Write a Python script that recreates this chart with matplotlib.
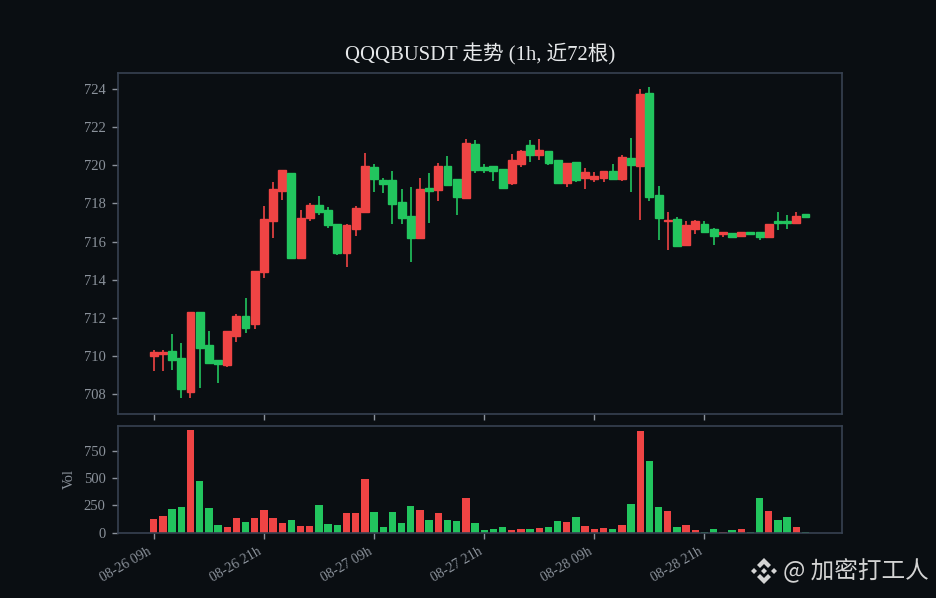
import matplotlib
matplotlib.use("Agg")
import matplotlib.pyplot as plt
from matplotlib.patches import Polygon

BG = '#0a0e12'
UP = '#ef4444'
DOWN = '#22c55e'
SPINE = '#374151'
TICK = '#8b929b'

title = 'QQQBUSDT 走势 (1h, 近72根)'
tick_idx = [0, 12, 24, 36, 48, 60]
tick_labels = ['08-26 09h', '08-26 21h', '08-27 09h', '08-27 21h', '08-28 09h', '08-28 21h']

opens = [709.99, 710.09, 710.25, 709.88, 708.10, 712.29, 710.56, 709.78, 709.52, 711.08, 712.08, 711.66,
         714.43, 717.10, 718.67, 719.61, 715.16, 717.25, 717.93, 717.67, 716.94, 715.42, 716.68, 717.57,
         719.92, 719.24, 719.24, 718.09, 717.36, 716.21, 718.82, 718.72, 719.97, 719.29, 718.30, 721.12,
         719.92, 719.97, 719.82, 719.08, 720.08, 721.07, 720.55, 720.76, 720.29, 719.08, 720.18, 719.35,
         719.29, 719.35, 719.71, 719.29, 720.39, 719.97, 723.79, 718.46, 717.05, 717.20, 715.84, 716.68,
         716.94, 716.68, 716.37, 716.47, 716.31, 716.52, 716.52, 716.26, 717.10, 717.10, 716.99, 717.46]
highs = [710.30, 710.30, 711.14, 710.67, 712.29, 712.29, 711.29, 709.78, 711.29, 712.18, 713.02, 714.48,
         717.88, 719.14, 719.76, 719.61, 717.67, 718.04, 718.41, 717.83, 716.94, 716.94, 717.88, 720.65,
         720.08, 719.35, 719.71, 718.77, 718.88, 719.35, 719.61, 720.13, 720.50, 719.29, 721.39, 721.33,
         720.08, 719.97, 719.82, 720.60, 720.81, 721.33, 721.39, 720.76, 720.29, 720.13, 720.18, 719.87,
         719.66, 719.71, 720.08, 720.55, 721.44, 724.00, 724.10, 718.93, 717.52, 717.31, 717.10, 717.15,
         717.05, 716.73, 716.52, 716.47, 716.52, 716.52, 716.52, 716.94, 717.57, 717.41, 717.57, 717.46]
lows = [709.20, 709.20, 709.25, 707.79, 707.79, 708.31, 709.62, 708.58, 709.41, 710.72, 711.19, 711.40,
        714.07, 716.21, 718.20, 715.11, 715.11, 717.05, 717.41, 716.73, 715.27, 714.69, 716.31, 717.57,
        718.61, 718.56, 716.94, 716.94, 714.95, 716.16, 716.99, 718.14, 718.98, 717.41, 718.25, 719.61,
        719.61, 719.19, 718.77, 718.98, 719.92, 720.18, 720.29, 720.03, 719.08, 718.88, 719.14, 718.77,
        719.14, 719.14, 719.29, 719.19, 718.61, 717.15, 718.14, 716.10, 715.58, 715.74, 715.84, 716.37,
        716.52, 715.84, 716.26, 716.16, 716.26, 716.37, 716.10, 716.21, 716.58, 716.63, 716.99, 717.31]
closes = [710.20, 710.20, 709.78, 708.26, 712.29, 710.41, 709.62, 709.57, 711.29, 712.08, 711.45, 714.48,
          717.20, 718.77, 719.76, 715.16, 717.25, 717.93, 717.57, 716.84, 715.42, 716.89, 717.73, 719.97,
          719.29, 719.03, 717.99, 717.25, 716.16, 718.77, 718.67, 719.97, 718.98, 718.35, 721.18, 719.76,
          719.76, 719.71, 718.82, 720.29, 720.76, 720.55, 720.81, 720.13, 719.08, 720.13, 719.24, 719.66,
          719.45, 719.71, 719.29, 720.44, 720.03, 723.74, 718.35, 717.25, 717.15, 715.74, 716.84, 717.10,
          716.52, 716.31, 716.52, 716.26, 716.52, 716.37, 716.26, 716.94, 716.99, 716.99, 717.36, 717.31]
volumes = [121, 149, 214, 233, 949, 474, 223, 65, 47, 130, 93, 130,
           205, 130, 84, 112, 56, 56, 251, 74, 65, 177, 177, 493,
           186, 47, 186, 84, 242, 205, 112, 177, 112, 102, 316, 84,
           19, 28, 47, 19, 28, 28, 37, 47, 102, 93, 140, 56,
           28, 37, 28, 65, 260, 939, 660, 233, 195, 47, 65, 19,
           9, 28, 3, 19, 28, 9, 316, 195, 112, 140, 47, 2]

plt.rcParams['font.family'] = ['Liberation Serif', 'Noto Sans CJK SC']

W, H = 936, 598
fig = plt.figure(figsize=(W / 100, H / 100), dpi=100, facecolor=BG)


def px_axes(x0, y0, x1, y1):
    return fig.add_axes([x0 / W, 1 - y1 / H, (x1 - x0) / W, (y1 - y0) / H], facecolor=BG)


ax = px_axes(117.5, 72.5, 842, 414)
vax = px_axes(117.5, 426, 842, 532.5)

xs = list(range(len(opens)))
colors = [UP if c >= o else DOWN for o, c in zip(opens, closes)]

for i in xs:
    ax.vlines(i, lows[i], highs[i], color=colors[i], lw=1.2, zorder=2)
    ax.bar(i, abs(closes[i] - opens[i]), bottom=min(opens[i], closes[i]), width=0.86,
           color=colors[i], edgecolor=colors[i], lw=1.0, zorder=3)
vax.bar(xs, volumes, width=0.8, color=colors)

ax.set_xlim(-3.95, 74.98)
vax.set_xlim(-3.95, 74.98)
ax.set_ylim(706.97, 724.85)
vax.set_ylim(0, 985)

ax.set_yticks(range(708, 725, 2))
ax.set_xticks(tick_idx)
ax.set_xticklabels([])
vax.set_yticks([0, 250, 500, 750])
vax.set_xticks(tick_idx)
vax.set_xticklabels(tick_labels, rotation=30, ha='right', fontsize=10)
vax.set_ylabel('Vol', color=TICK, fontsize=10.5, labelpad=6)

for a in (ax, vax):
    a.tick_params(colors=TICK, labelsize=10.5, length=4, width=1, pad=4.5, color='#8b929b')
    for s in a.spines.values():
        s.set_color(SPINE)
        s.set_linewidth(1.2)
vax.tick_params(axis='x', labelsize=10, pad=5)

fig.text(480 / W, 1 - 54 / H, title, color='#e6e8ea', fontsize=14.85, ha='center', va='center')

# watermark
fig.text(783 / W, 1 - 571 / H, '@ 加密打工人', color='#d4d4d4', fontsize=17, ha='left', va='center',
         family=['Noto Sans CJK SC', 'DejaVu Sans'])
cx, cy = 764, 571
logo = [
    [(-4, -3), (0, -7), (4, -3), (7, -6), (0, -13), (-7, -6)],
    [(-4, 3), (0, 7), (4, 3), (7, 6), (0, 13), (-7, 6)],
    [(-3, 0), (0, -3), (3, 0), (0, 3)],
    [(-13, 0), (-10, -3), (-7, 0), (-10, 3)],
    [(13, 0), (10, -3), (7, 0), (10, 3)],
]
for shape in logo:
    pts = [((cx + dx) / W, 1 - (cy + dy) / H) for dx, dy in shape]
    fig.add_artist(Polygon(pts, closed=True, transform=fig.transFigure, facecolor='#d4d4d4', edgecolor='none'))

fig.savefig('out.png', dpi=100, facecolor=BG)
